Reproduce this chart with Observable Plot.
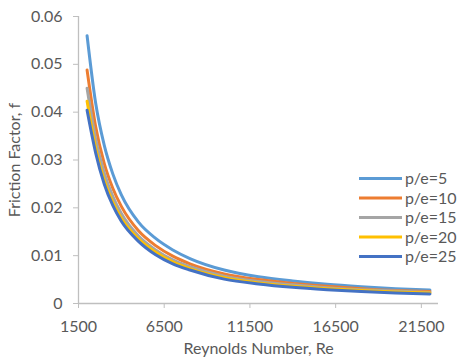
<!DOCTYPE html>
<html>
<head>
<meta charset="utf-8">
<script src="https://cdn.jsdelivr.net/npm/d3@7"></script>
<script src="https://cdn.jsdelivr.net/npm/@observablehq/plot@0.6"></script>
<style>
  html, body { margin: 0; padding: 0; background: #fff; }
  #chart { width: 474px; height: 362px; }
</style>
</head>
<body>
<div id="chart"></div>
<script>
// Reynolds numbers at which the curves were read
const reynolds = [2000, 2500, 3000, 3500, 4000, 5000, 6000, 7000, 8000, 10000, 12000, 14000, 16000, 18000, 20000, 22000];

// Friction factor per p/e series
const f_pe5  = [0.0560, 0.0419, 0.0331, 0.0271, 0.0227, 0.0170, 0.0136, 0.0112, 0.0094, 0.0070, 0.0056, 0.0047, 0.0040, 0.0035, 0.0031, 0.0028];
const f_pe10 = [0.0488, 0.0370, 0.0293, 0.0241, 0.0203, 0.0152, 0.0121, 0.0099, 0.0083, 0.0062, 0.0050, 0.0042, 0.0036, 0.0031, 0.0027, 0.0025];
const f_pe15 = [0.0450, 0.0344, 0.0273, 0.0224, 0.0188, 0.0141, 0.0112, 0.0091, 0.0077, 0.0057, 0.0046, 0.0039, 0.0033, 0.0029, 0.0026, 0.0023];
const f_pe20 = [0.0423, 0.0325, 0.0258, 0.0212, 0.0178, 0.0135, 0.0107, 0.0087, 0.0073, 0.0054, 0.0043, 0.0036, 0.0031, 0.0027, 0.0024, 0.0022];
const f_pe25 = [0.0404, 0.0315, 0.0250, 0.0205, 0.0172, 0.0130, 0.0102, 0.0083, 0.0070, 0.0051, 0.0041, 0.0034, 0.0029, 0.0025, 0.0022, 0.0020];

const seriesNames = ["p/e=5", "p/e=10", "p/e=15", "p/e=20", "p/e=25"];
const seriesColors = ["#5B9BD5", "#ED7D31", "#A5A5A5", "#FFC000", "#4472C4"];

const xTicks = [1500, 6500, 11500, 16500, 21500];
const yTicks = [0, 0.01, 0.02, 0.03, 0.04, 0.05, 0.06];
const yTickLabels = ["0", "0.01", "0.02", "0.03", "0.04", "0.05", "0.06"];

const seriesValues = [f_pe5, f_pe10, f_pe15, f_pe20, f_pe25];
const rows = [];
seriesValues.forEach((vals, i) => {
  vals.forEach((v, j) => rows.push({ series: seriesNames[i], re: reynolds[j], f: v }));
});

const axisColor = "#BFBFBF";
const textColor = "#595959";
const font = "Lato, 'Open Sans', sans-serif";

const plot = Plot.plot({
  width: 474,
  height: 362,
  marginLeft: 78,
  marginRight: 36,
  marginTop: 16,
  marginBottom: 59,
  style: { fontFamily: font, fontSize: "16px", color: textColor, background: "#fff", overflow: "visible" },
  x: { domain: [1500, 22500] },
  y: { domain: [0, 0.06] },
  color: { domain: seriesNames, range: seriesColors },
  marks: [
    Plot.ruleX([1500], { stroke: axisColor, strokeWidth: 1.3 }),
    Plot.ruleY([0], { stroke: axisColor, strokeWidth: 1.3 }),
    Plot.axisX({
      ticks: xTicks,
      tickFormat: d => String(d),
      tickSize: 5,
      tickPadding: 12,
      stroke: axisColor,
      fill: textColor,
      fontSize: 16,
      label: "Reynolds Number, Re",
      labelAnchor: "center",
      labelArrow: "none",
      labelOffset: 50
    }),
    Plot.axisY({
      ticks: yTicks,
      tickFormat: d => yTickLabels[yTicks.indexOf(d)],
      tickSize: 5,
      tickPadding: 11,
      stroke: axisColor,
      fill: textColor,
      fontSize: 16,
      label: "Friction Factor, f",
      labelAnchor: "center",
      labelArrow: "none",
      labelOffset: 70
    }),
    Plot.line(rows, {
      x: "re",
      y: "f",
      z: "series",
      stroke: "series",
      strokeWidth: 3,
      curve: "monotone-x"
    })
  ]
});

document.getElementById("chart").appendChild(plot);

// Legend inside the plot area, drawn in the SVG
const svg = d3.select(plot);
const legend = svg.append("g")
  .attr("font-family", font)
  .attr("font-size", 16)
  .attr("fill", textColor)
  .attr("text-anchor", "start");
seriesNames.forEach((name, i) => {
  const y = 178.5 + i * 19.5;
  legend.append("line")
    .attr("x1", 359).attr("x2", 402)
    .attr("y1", y).attr("y2", y)
    .attr("stroke", seriesColors[i])
    .attr("stroke-width", 3);
  legend.append("text")
    .attr("x", 405).attr("y", y)
    .attr("dy", "0.35em")
    .attr("text-anchor", "start")
    .text(name);
});
</script>
</body>
</html>
